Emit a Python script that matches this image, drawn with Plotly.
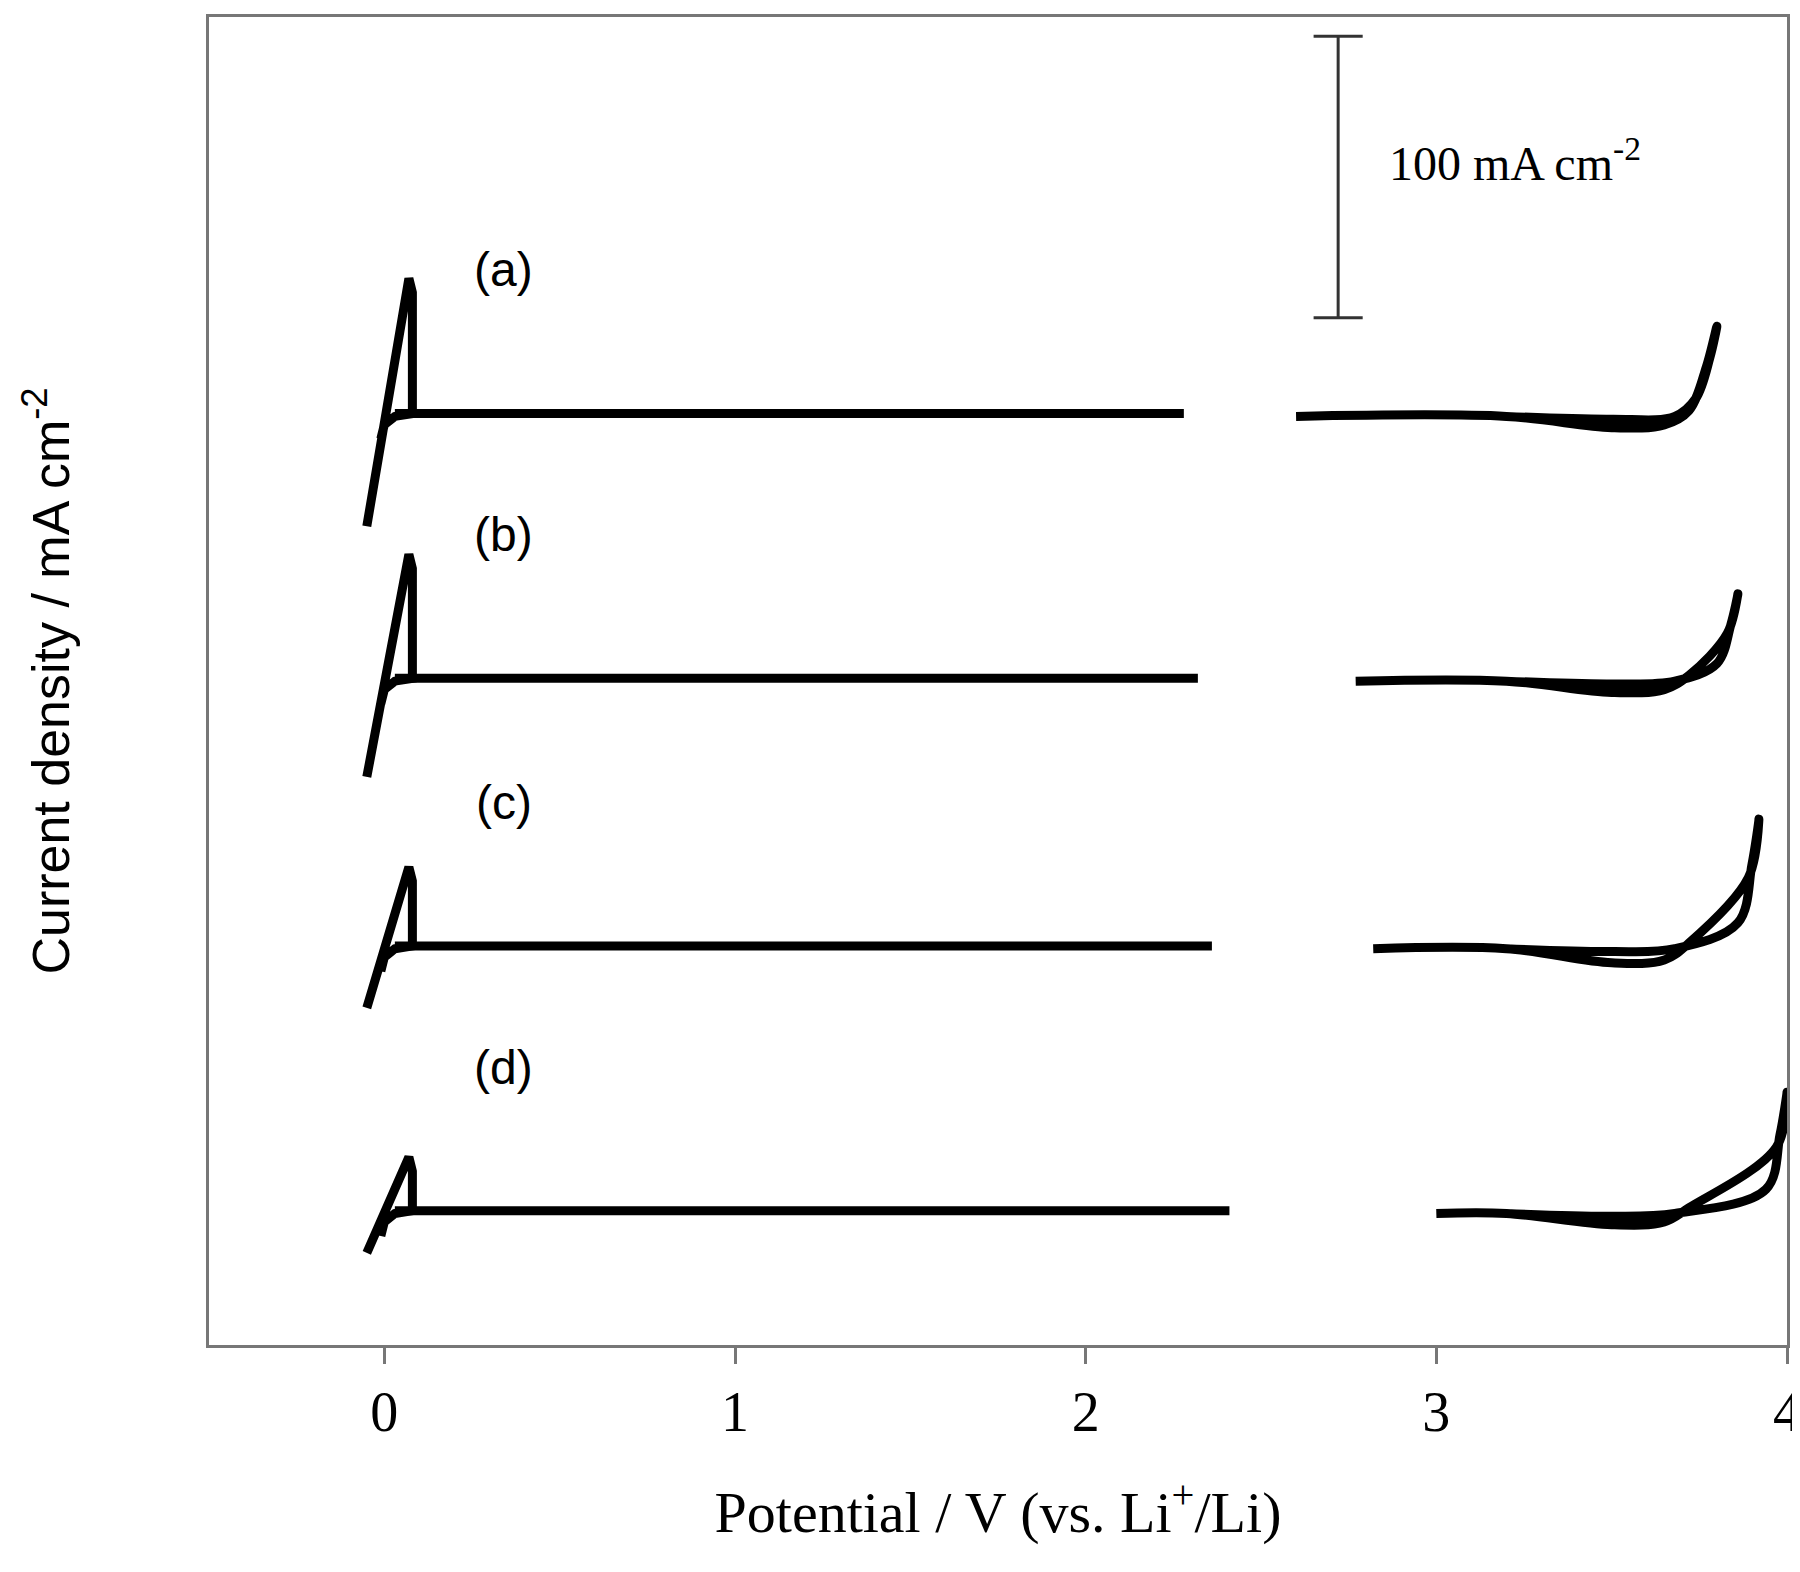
import plotly.graph_objects as go

# curve offsets (mA cm-2) and key points
labels = ["(a)", "(b)", "(c)", "(d)"]
offsets = [283, 189, 94, 0]
low_y = [-39, -34, -21, -14]
peak_y = [49, 45, 29, 20]
gap_start = [2.28, 2.32, 2.36, 2.41]
gap_end = [2.60, 2.77, 2.82, 3.00]
end_x = [3.80, 3.86, 3.92, 4.00]
end_y = [32, 31, 46, 43]
dip_y = [-4, -4, -5, -4]

fig = go.Figure()
line = dict(color="black", width=9)
for i in range(4):
    o = offsets[i]
    # cathodic spike near 0 V
    xs = [-0.05, 0.07, 0.08, 0.08, 0.03, 0.0, -0.01]
    ys = [low_y[i], peak_y[i], peak_y[i] - 5, 1, 0, -3, -8]
    fig.add_trace(go.Scatter(x=xs, y=[v + o for v in ys], mode="lines", line=line, showlegend=False))
    # flat baseline
    fig.add_trace(go.Scatter(x=[0.03, gap_start[i]], y=[o + 1, o + 1], mode="lines", line=line, showlegend=False))
    # anodic branch
    ex = end_x[i]
    xs = [gap_end[i], 3.2, 3.5, 3.65, 3.72, ex - 0.03, ex, ex - 0.02, ex - 0.06, 3.68, 3.5, 3.2]
    ys = [0, 0, dip_y[i], dip_y[i] + 1, 2, end_y[i] * 0.55, end_y[i], end_y[i] * 0.65, end_y[i] * 0.2, 0, -1, 0]
    fig.add_trace(go.Scatter(x=xs, y=[v + o for v in ys], mode="lines",
                             line=dict(color="black", width=9, shape="spline"), showlegend=False))
    fig.add_annotation(x=0.34, y=o + 52, text=labels[i], showarrow=False,
                       font=dict(family="Liberation Sans", size=48, color="black"))

# 100 mA cm-2 scale bar
fig.add_trace(go.Scatter(x=[2.72, 2.72, None, 2.65, 2.79, None, 2.65, 2.79],
                         y=[318, 418, None, 418, 418, None, 318, 318], mode="lines",
                         line=dict(color="#333", width=3), showlegend=False))
fig.add_annotation(x=2.86, y=374, xanchor="left", text="100 mA cm<sup>-2</sup>", showarrow=False,
                   font=dict(family="Liberation Serif", size=48, color="black"))

fig.update_layout(
    width=1800, height=1572, plot_bgcolor="white", paper_bgcolor="white",
    margin=dict(l=201, r=21, t=6, b=235),
    font=dict(family="Liberation Serif", color="black"),
)
fig.update_xaxes(range=[-0.5, 4.0], tickvals=[0, 1, 2, 3, 4], ticks="outside", ticklen=16,
                 tickcolor="#777", tickwidth=3, showline=True, linecolor="#777", linewidth=3,
                 mirror=True, showgrid=False, zeroline=False, tickfont=dict(size=56),
                 title=dict(text="Potential / V (vs. Li<sup>+</sup>/Li)", font=dict(size=58), standoff=50))
fig.update_yaxes(range=[-46.7, 424.8], showticklabels=False, ticks="", showline=True,
                 linecolor="#777", linewidth=3, mirror=True, showgrid=False, zeroline=False,
                 title=dict(text="Current density / mA cm<sup>-2</sup>",
                            font=dict(family="Liberation Sans", size=52), standoff=120))
fig.write_html("out.html")
